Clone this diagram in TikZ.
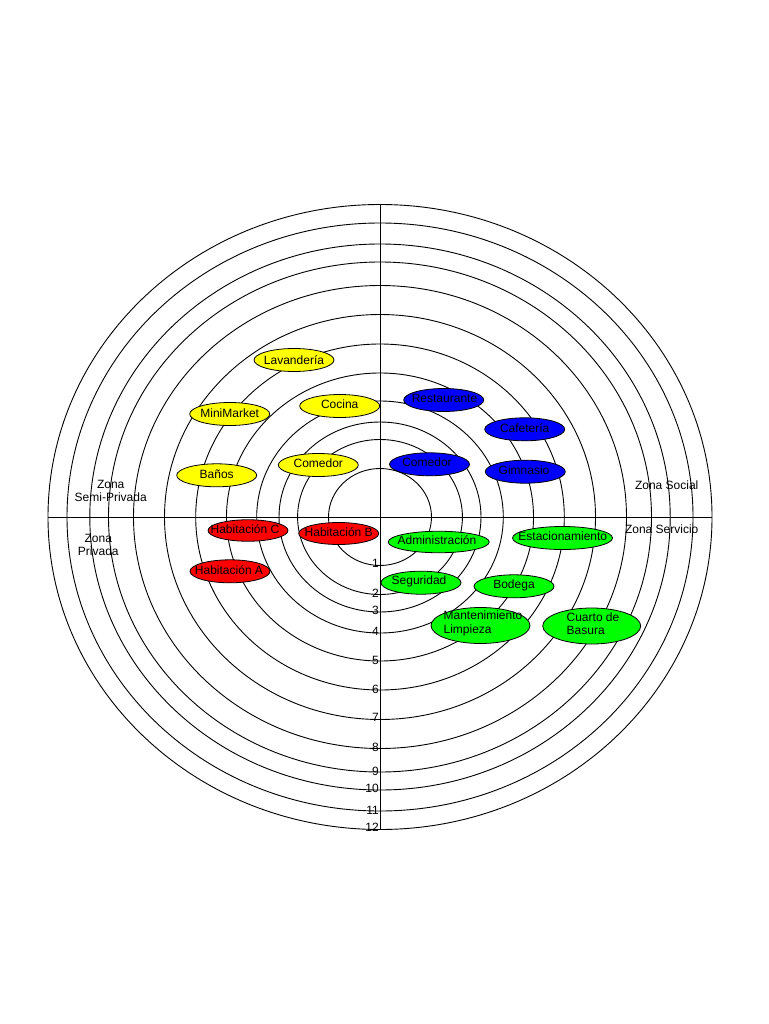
\documentclass[tikz,border=0pt]{standalone}
\usepackage{fontspec}
\setmainfont{Liberation Sans}
\usetikzlibrary{shapes.geometric}
\definecolor{yel}{RGB}{255,255,0}
\definecolor{rd}{RGB}{255,0,0}
\definecolor{bl}{RGB}{0,0,255}
\definecolor{gr}{RGB}{0,255,0}
\begin{document}
\begin{tikzpicture}[x=1pt,y=-1pt,
  ring/.style={line width=0.9pt, draw=black},
  ell/.style={ellipse, draw=black, line width=0.8pt, inner sep=0pt,
    minimum width=80pt, minimum height=23pt},
  txt/.style={font=\fontsize{12}{13.3}\selectfont, inner sep=0pt, align=center, text=black},
  txtl/.style={font=\fontsize{12}{13.3}\selectfont, inner sep=0pt, align=left, text=black},
  num/.style={font=\fontsize{12}{12}\selectfont, inner sep=0pt, anchor=east, text=black}]
\useasboundingbox[fill=white] (0,0) rectangle (768,1024);
\coordinate (c) at (380,517);
\foreach \i/\rx/\ry/\ly in {1/51.5/48.5/563.7, 2/82.4/77.5/593, 3/101/95/610.3,
  4/123.3/116/631.7, 5/153.5/144/660.3, 6/184.3/173/689.3, 7/215.5/202.5/717,
  8/246.5/231.5/747, 9/271.5/255/771, 10/290.2/273/788.7, 11/313/294/810.3,
  12/332/312.5/827.7}{
  \draw[ring] (c) ellipse [x radius=\rx pt, y radius=\ry pt];
  \node[num] (n\i) at (379,\ly) {\i};
}
\coordinate (top) at (380,204.5);
\coordinate (bot) at (380,829.5);
\coordinate (lft) at (48,517);
\coordinate (rgt) at (712,517);
\draw[ring] (top) -- (bot);
\draw[ring] (lft) -- (rgt);

% yellow
\node[ell, fill=yel] (lav) at (294,360) {};
\node[txt] (lavt) at (lav) {Lavandería};
\node[ell, fill=yel] (coc) at (339.7,406) {};
\node[txt] (coct) at (339.7,404.5) {Cocina};
\node[ell, fill=yel] (mini) at (229.7,414) {};
\node[txt] (minit) at (229.7,413) {MiniMarket};
\node[ell, fill=yel] (comy) at (318.3,465) {};
\node[txt] (comyt) at (318.3,463.5) {Comedor};
\node[ell, fill=yel] (ban) at (216.7,475.3) {};
\node[txt] (bant) at (216.7,474.3) {Baños};
% red
\node[ell, fill=rd, minimum height=21.5pt] (habc) at (248,530.5) {};
\node[txt] (habct) at (245,529) {Habitación C};
\node[ell, fill=rd, minimum height=22pt] (habb) at (338.7,533.5) {};
\node[txt] (habbt) at (338.7,532) {Habitación B};
\node[ell, fill=rd] (haba) at (230,571.3) {};
\node[txt] (habat) at (229,570) {Habitación A};
% blue
\node[ell, fill=bl] (rest) at (443.7,400) {};
\node[txt] (restt) at (444.5,398.5) {Restaurante};
\node[ell, fill=bl] (caf) at (524.7,429.3) {};
\node[txt] (caft) at (524.7,428) {Cafetería};
\node[ell, fill=bl] (comb) at (429.5,464.3) {};
\node[txt] (combt) at (427,462.5) {Comedor};
\node[ell, fill=bl] (gim) at (525.3,471.7) {};
\node[txt] (gimt) at (524,470.5) {Gimnasio};
% green
\node[ell, fill=gr, minimum width=101pt, minimum height=21.5pt] (adm) at (438.7,542) {};
\node[txt] (admt) at (437,540.5) {Administración};
\node[ell, fill=gr, minimum width=100pt] (est) at (562.5,538) {};
\node[txt] (estt) at (562.8,536) {Estacionamiento};
\node[ell, fill=gr] (seg) at (421,582.7) {};
\node[txt] (segt) at (419,581.5) {Seguridad};
\node[ell, fill=gr] (bod) at (514,586.3) {};
\node[txt] (bodt) at (514,585) {Bodega};
\node[ell, fill=gr, minimum width=99pt, minimum height=36pt] (mant) at (480.5,625.5) {};
\node[txtl] (mantt) at (483,623.5) {Mantenimiento\\Limpieza};
\node[ell, fill=gr, minimum width=98pt, minimum height=36pt] (cuar) at (591.7,626) {};
\node[txtl] (cuart) at (593,623.5) {Cuarto de\\Basura};

% zone labels
\node[txt] (zsp) at (110.7,490.7) {Zona\\Semi-Privada};
\node[txt] (zpr) at (98.3,545.2) {Zona\\Privada};
\node[txt] (zsoc) at (666.7,485) {Zona Social};
\node[txt] (zser) at (661.7,529) {Zona Servicio};
\end{tikzpicture}
\end{document}
